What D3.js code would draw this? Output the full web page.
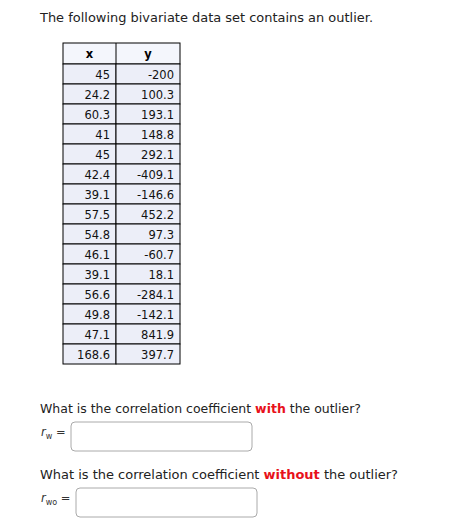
<!DOCTYPE html><html><head><meta charset="utf-8"><script src="https://cdn.jsdelivr.net/npm/d3@7"></script>
<style>body{margin:0;background:#fff}</style></head><body><script>
const xs=["45","24.2","60.3","41","45","42.4","39.1","57.5","54.8","46.1","39.1","56.6","49.8","47.1","168.6"];
const ys=["-200","100.3","193.1","148.8","292.1","-409.1","-146.6","452.2","97.3","-60.7","18.1","-284.1","-142.1","841.9","397.7"];
const headers=["x","y"];
const F="'DejaVu Sans', sans-serif";
const svg=d3.select("body").append("svg").attr("width",450).attr("height",526);
const title=svg.append("text").attr("x",40).attr("y",22).attr("font-family",F).attr("font-size",12).attr("fill","#222").text("The following bivariate data set contains an outlier.");
title.attr("textLength",333).attr("lengthAdjust","spacingAndGlyphs");
const rowY=d3.scaleBand().domain(d3.range(xs.length)).range([64,364]);
const colX=d3.scaleOrdinal().domain([0,1]).range([63,116]);
const colW=[53,64];
svg.append("rect").attr("x",63).attr("y",43).attr("width",117).attr("height",21).attr("fill","#f4f6fc").attr("stroke","#000");
svg.append("line").attr("x1",116).attr("x2",116).attr("y1",43).attr("y2",64).attr("stroke","#000");
headers.forEach((h,i)=>svg.append("text").attr("x",colX(i)+colW[i]/2).attr("y",58).attr("text-anchor","middle").attr("font-family",F).attr("font-weight","bold").attr("font-size",11.5).text(h));
const g=svg.selectAll("g.r").data(d3.range(xs.length)).join("g").attr("transform",i=>`translate(0,${rowY(i)})`);
[0,1].forEach(c=>{
 g.append("rect").attr("x",colX(c)).attr("width",colW[c]).attr("height",rowY.bandwidth()).attr("fill","#eceef8").attr("stroke","#000").attr("stroke-width",1);
 g.append("text").attr("x",colX(c)+colW[c]-6).attr("y",rowY.bandwidth()/2+4.5).attr("text-anchor","end").attr("font-family",F).attr("font-size",11.5).attr("fill","#111").text(i=>c?ys[i]:xs[i]);
});
function q(y,pre,word,post,len){const t=svg.append("text").attr("x",40).attr("y",y).attr("font-family",F).attr("font-size",12).attr("fill","#222");
 t.append("tspan").text(pre);t.append("tspan").attr("fill","#e8111b").attr("font-weight","bold").text(word);t.append("tspan").text(post);
 t.attr("textLength",len).attr("lengthAdjust","spacingAndGlyphs");}
q(413,"What is the correlation coefficient ","with"," the outlier?",321);
q(479,"What is the correlation coefficient ","without"," the outlier?",358);
function lab(y,sub,bx,bw){const t=svg.append("text").attr("x",41).attr("y",y).attr("font-family",F).attr("font-size",11.5).attr("fill","#333");
 t.append("tspan").attr("font-style","italic").text("r");t.append("tspan").attr("font-size",8).attr("dy",3).text(sub);t.append("tspan").attr("dy",-3).text(" =");
 svg.append("rect").attr("x",bx).attr("y",y-14).attr("width",bw).attr("height",29).attr("rx",4).attr("fill","#fff").attr("stroke","#aaa");}
lab(436,"w",71,181);
lab(502,"wo",76,181);
</script></body></html>
